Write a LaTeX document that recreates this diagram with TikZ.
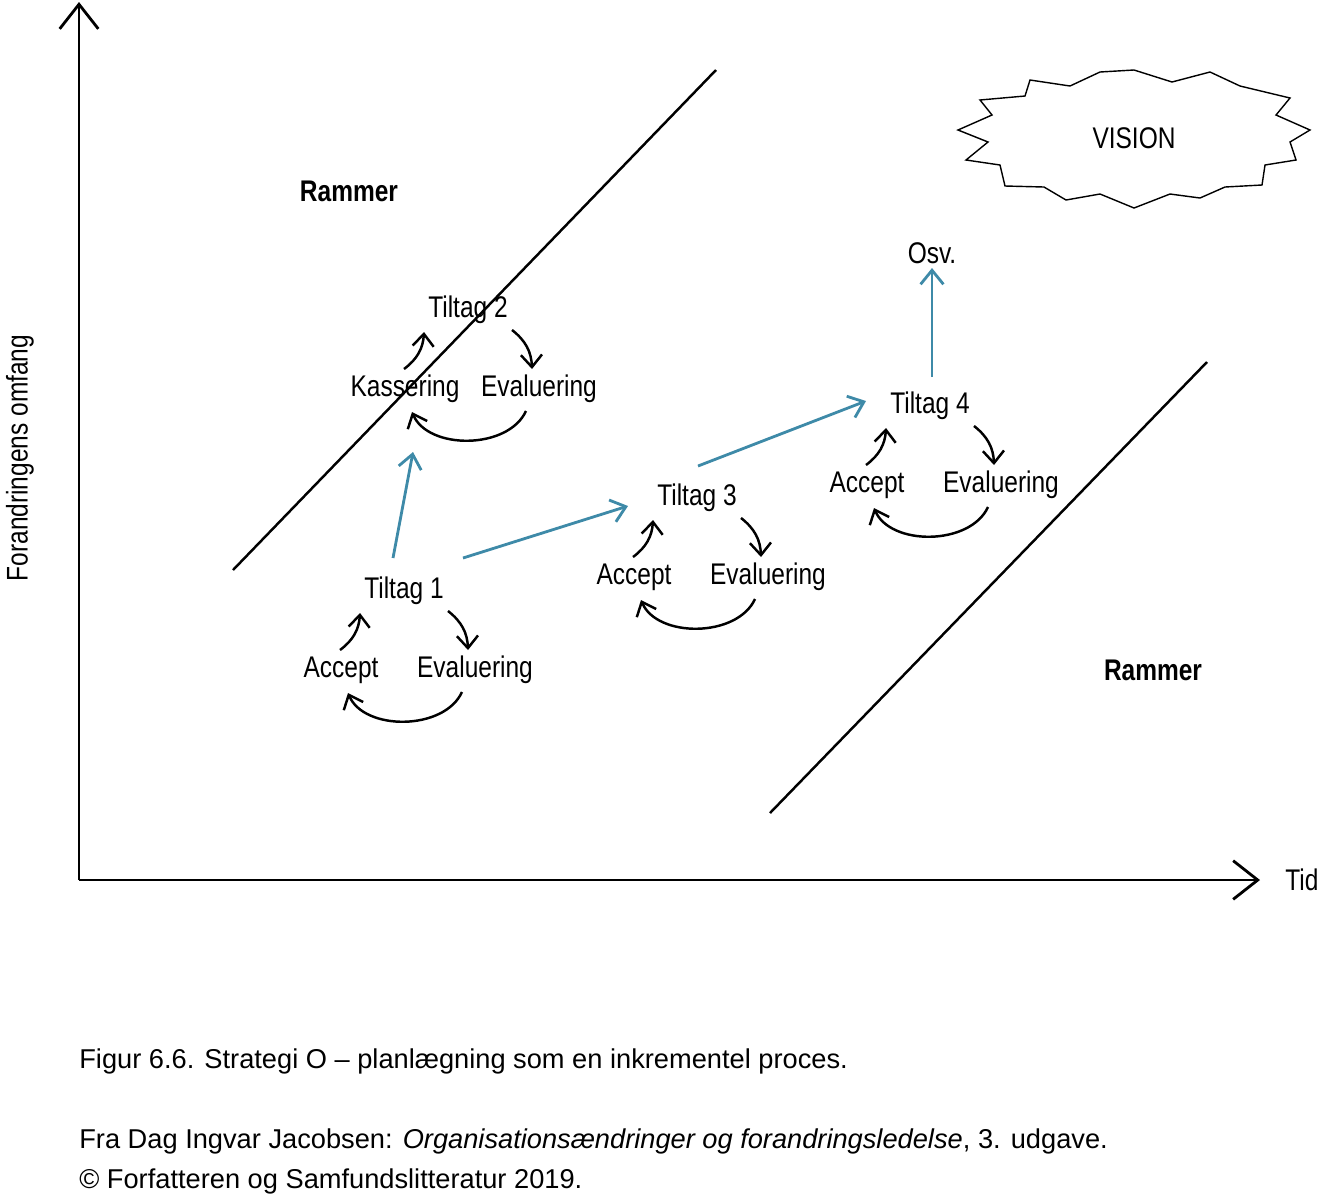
\documentclass[tikz,border=0pt]{standalone}
\usepackage{fontspec}
\setmainfont{Liberation Sans}
\newfontfamily\cond[FakeStretch=0.82]{Liberation Sans}
\usetikzlibrary{arrows.meta}
\definecolor{blu}{HTML}{3E8AA8}
\begin{document}
\begin{tikzpicture}[x=0.02cm,y=-0.02cm,
  lab/.style={font=\cond\fontsize{17}{20}\selectfont,inner sep=0},
  bold/.style={font=\cond\bfseries\fontsize{17}{20}\selectfont,inner sep=0},
  captxt/.style={font=\fontsize{15.5}{19}\selectfont,inner sep=0,anchor=base west},
  ax/.style={line width=1.6pt,-{Straight Barb[length=14pt,width=22pt,line width=1.6pt]}},
  blk/.style={line width=1.4pt,-{Straight Barb[length=7pt,width=12pt,line width=1.4pt]}},
  bl/.style={blu,line width=1.6pt,-{Straight Barb[length=8pt,width=13pt,line width=1.6pt]}}]
\useasboundingbox (0,0) rectangle (1324,1198);
\coordinate (o) at (79,880);
\coordinate (ytop) at (79,2);
\coordinate (xend) at (1260,880);
\draw[ax] (o) -- (ytop);
\draw[ax] (o) -- (xend);
\node[lab,rotate=90] (ylab) at (20,458) {Forandringens omfang};
\node[lab,anchor=west] (tid) at (1285,880) {Tid};
\coordinate (l1a) at (233,570); \coordinate (l1b) at (716,70);
\coordinate (l2a) at (770,813); \coordinate (l2b) at (1207,362);
\draw[line width=1.4pt] (l1a) -- (l1b);
\draw[line width=1.4pt] (l2a) -- (l2b);
\node[bold] (r1) at (349,191) {Rammer};
\node[bold] (r2) at (1153,670) {Rammer};
\draw[line width=0.8pt] plot[smooth cycle,tension=0] coordinates {
(1134,70)(1172,82)(1210,72)(1240,86)(1290,98)(1276,115)(1310,130)(1290,142)(1296,160)
(1265,165)(1262,185)(1225,187)(1200,198)(1170,194)(1134,208)(1100,194)(1066,200)(1044,187)
(1005,186)(1000,165)(966,160)(988,142)(958,130)(992,115)(980,100)(1025,96)(1030,80)(1070,86)(1100,72)};
\node[lab] (vision) at (1134,138) {VISION};
\node[lab] (osv) at (932,253) {Osv.};
\newcommand\trio[5]{%
  \node[lab] (#1) at (#2,#3) {Tiltag #5};
  \node[lab] (#1L) at (#2-63,#3+79) {#4};
  \node[lab] (#1R) at (#2+71,#3+79) {Evaluering};
  \draw[blk] ([shift={(-64,59)}]#1.center) to[bend right=25] ([shift={(-44,22)}]#1.center);
  \draw[blk] ([shift={(44,20)}]#1.center) to[bend left=25] ([shift={(64,59)}]#1.center);
  \draw[blk] ([shift={(58,101)}]#1.center) .. controls ([shift={(40,140)}]#1.center) and ([shift={(-40,140)}]#1.center) .. ([shift={(-56,102)}]#1.center);
}
\trio{t1}{404}{591}{Accept}{1}
\trio{t2}{468}{310}{Kassering}{2}
\trio{t3}{697}{498}{Accept}{3}
\trio{t4}{930}{406}{Accept}{4}
\draw[bl] ([shift={(-11,-33)}]t1.center) -- ([shift={(-55,142)}]t2.center);
\draw[bl] ([shift={(59,-33)}]t1.center) -- ([shift={(-69,8)}]t3.center);
\draw[bl] ([shift={(1,-32)}]t3.center) -- ([shift={(-64,-5)}]t4.center);
\draw[bl] ([shift={(2,-29)}]t4.center) -- ([shift={(0,15)}]osv.center);
\node[captxt] (c1) at (79,1068) {Figur 6.6. Strategi O – planlægning som en inkrementel proces.};
\node[captxt] (c2) at (79,1148) {Fra Dag Ingvar Jacobsen: \textit{Organisationsændringer og forandringsledelse}, 3. udgave.};
\node[captxt] (c3) at (79,1188) {© Forfatteren og Samfundslitteratur 2019.};
\end{tikzpicture}
\end{document}
